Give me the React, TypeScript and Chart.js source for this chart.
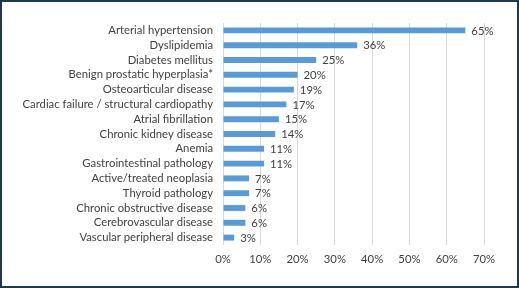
import React, { useEffect, useRef } from "react";
import { Chart, registerables } from "chart.js";

Chart.register(...registerables);

const categories = [
  "Arterial hypertension",
  "Dyslipidemia",
  "Diabetes mellitus",
  "Benign prostatic hyperplasia*",
  "Osteoarticular disease",
  "Cardiac failure / structural cardiopathy",
  "Atrial fibrillation",
  "Chronic kidney disease",
  "Anemia",
  "Gastrointestinal pathology",
  "Active/treated neoplasia",
  "Thyroid pathology",
  "Chronic obstructive disease",
  "Cerebrovascular disease",
  "Vascular peripheral disease",
];

const values = [65, 36, 25, 20, 19, 17, 15, 14, 11, 11, 7, 7, 6, 6, 3];

const xTickMin = 0;
const xTickMax = 70;
const xTickStep = 10;

const FONT = "Lato, 'Open Sans', sans-serif";
const FONT_SIZE = 11.3;
const TEXT = "#404040";

const dataLabelPlugin = {
  id: "dataLabels",
  afterDatasetsDraw(chart: any) {
    const ctx = chart.ctx;
    const meta = chart.getDatasetMeta(0);
    ctx.save();
    ctx.font = `${FONT_SIZE}px ${FONT}`;
    ctx.fillStyle = TEXT;
    ctx.textAlign = "left";
    ctx.textBaseline = "middle";
    meta.data.forEach((el: any, i: number) => {
      ctx.fillText(`${values[i]}%`, el.x + 6, el.y + 0.5);
    });
    ctx.restore();
  },
};

export default function App() {
  const canvasRef = useRef<HTMLCanvasElement | null>(null);

  useEffect(() => {
    if (!canvasRef.current) return;
    const chart = new Chart(canvasRef.current, {
      type: "bar",
      data: {
        labels: categories,
        datasets: [
          {
            data: values,
            backgroundColor: "#5b9bd5",
            borderWidth: 0,
            barPercentage: 0.4,
            categoryPercentage: 1,
          },
        ],
      },
      options: {
        indexAxis: "y",
        animation: false,
        responsive: false,
        maintainAspectRatio: false,
        layout: { padding: { top: 21, right: 33, bottom: 0, left: 0 } },
        plugins: {
          legend: { display: false },
          tooltip: { enabled: false },
          title: { display: false },
        },
        scales: {
          x: {
            min: xTickMin,
            max: xTickMax,
            grid: { color: "#d9d9d9", drawTicks: false, lineWidth: 1 },
            border: { display: false },
            ticks: {
              stepSize: xTickStep,
              padding: 8,
              color: TEXT,
              font: { family: FONT, size: FONT_SIZE },
              callback: (v: any) => `${v}%`,
            },
            afterFit: (s: any) => {
              s.height = 41;
            },
          },
          y: {
            grid: { display: false, drawTicks: false },
            border: { display: false },
            ticks: {
              padding: 10,
              color: TEXT,
              font: { family: FONT, size: FONT_SIZE },
              autoSkip: false,
            },
            afterFit: (s: any) => {
              s.width = 221;
            },
          },
        },
      },
      plugins: [dataLabelPlugin],
    });
    return () => chart.destroy();
  }, []);

  return (
    <div
      style={{
        position: "fixed",
        left: 0,
        top: 0,
        width: 519,
        height: 288,
        boxSizing: "border-box",
        border: "2px solid #1d3652",
        background: "#ffffff",
      }}
    >
      <canvas ref={canvasRef} width={515} height={284} style={{ display: "block" }} />
    </div>
  );
}
